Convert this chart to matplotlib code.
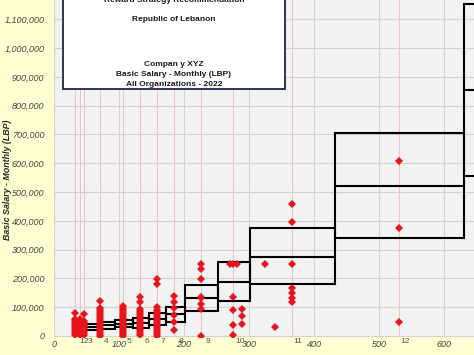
import matplotlib
matplotlib.use("Agg")
import matplotlib.pyplot as plt
from matplotlib.patches import Rectangle
from matplotlib.ticker import FuncFormatter

plt.rcParams['font.family'] = ['Liberation Sans', 'DejaVu Sans']

# grades: x position (job points) and employee salaries (LBP)
grade_labels = ["1", "2", "3", "4", "5", "6", "7", "8", "9", "10", "11", "12"]
grade_x = [33, 40, 46, 70, 105.5, 133, 158, 185, 226.5, 276, 366, 531]
grade_salaries = [
    [3000, 10000, 17000, 24000, 31000, 38000, 45000, 52000, 58000, 81000],
    [5000, 12000, 19000, 26000, 33000, 40000, 47000, 54000, 60000],
    [4000, 11000, 18000, 25000, 32000, 39000, 46000, 53000, 76000],
    [0, 7000, 14000, 21000, 28000, 35000, 42000, 49000, 56000, 63000, 70000,
     77000, 84000, 91000, 98000, 121000],
    [0, 7000, 14000, 21000, 28000, 35000, 42000, 49000, 56000, 63000, 70000,
     77000, 84000, 91000, 98000, 105000],
    [4000, 11000, 18000, 25000, 32000, 39000, 46000, 53000, 60000, 67000,
     74000, 81000, 88000, 95000, 119000, 137000],
    [0, 7000, 14000, 21000, 28000, 35000, 42000, 49000, 56000, 63000, 70000,
     77000, 84000, 91000, 100000, 180000, 198000],
    [21000, 49000, 73000, 97000, 119000, 139000],
    [1000, 93000, 110000, 132000, 137000, 198000, 232000, 250000],
    [3000, 38000, 90000, 137000, 249000],
    [118000, 133000, 149000, 167000, 250000, 397000, 458000],
    [49000, 375000, 608000],
]

# employees plotted off the grade lines
other_x = [270, 282, 289, 289, 289, 324.5, 339.5]
other_y = [249000, 249000, 42000, 69000, 94000, 250000, 31000]

# salary structure: point range and min / mid / max per grade
box_lo = [37, 44, 71, 93.8, 122, 146.6, 171.5, 201.5, 251.8, 300.8, 431.8, 630]
box_hi = [44, 71, 93.8, 122, 146.6, 171.5, 201.5, 251.8, 300.8, 431.8, 630, 700]
box_min = [15000, 21000, 26000, 30000, 27000, 39000, 50000, 87000, 123000, 181000, 340000, 556000]
box_mid = [22000, 31000, 37000, 42000, 44000, 59000, 76000, 131000, 189000, 276000, 521000, 854000]
box_max = [30000, 41000, 48000, 55000, 61000, 79000, 102000, 177000, 257000, 375000, 705000, 1153000]

title_lines = ["Reward Strategy Recommendation", "Republic of Lebanon",
               "Compan y XYZ", "Basic Salary - Monthly (LBP)", "All Organizations - 2022"]

W, H = 474, 355
fig = plt.figure(figsize=(W / 100, H / 100), dpi=100, facecolor='#FFFFD2')
ax = fig.add_axes([54 / W, (H - 337) / H, (W - 54) / W, 337 / H])
ax.set_facecolor('#F2F2F2')
for s in ax.spines.values():
    s.set_visible(False)

ax.set_xlim(0, 646)
ax.set_ylim(-3500, 1167000)
ax.set_xticks(range(0, 700, 100))
ax.set_yticks(range(0, 1100001, 100000))
ax.yaxis.set_major_formatter(FuncFormatter(lambda v, p: f"{v:,.0f}"))
ax.tick_params(length=0, labelsize=6.5, labelcolor='#454545')
ax.tick_params(axis='y', pad=7)
ax.tick_params(axis='x', pad=2.5)
for lab in ax.get_xticklabels() + ax.get_yticklabels():
    lab.set_style('italic')
ax.grid(color='#D2D2D2', lw=0.8, zorder=0)
ax.set_axisbelow(True)

for gx in grade_x:
    ax.axvline(gx, color='#EBC3C3', lw=0.8, zorder=1)

# structure boxes
widths = [h - l for l, h in zip(box_lo, box_hi)]
heights = [mx - mn for mn, mx in zip(box_min, box_max)]
ax.bar(box_lo, heights, width=widths, bottom=box_min, align='edge',
       fill=False, edgecolor='black', lw=1.5, zorder=3)
ax.hlines(box_mid, box_lo, box_hi, color='black', lw=1.5, zorder=3)

# employees
for gx, sal in zip(grade_x, grade_salaries):
    ax.plot([gx] * len(sal), sal, 'D', color='#E8141B', ms=3.9, mew=0, zorder=4)
ax.plot(other_x, other_y, 'D', color='#E8141B', ms=3.9, mew=0, zorder=4)

for gx, g in zip(grade_x, grade_labels):
    ax.annotate(g, (gx, 0), xycoords=('data', 'axes fraction'), xytext=(4.5, -3),
                textcoords='offset points', ha='center', va='center',
                fontsize=6, color='#505050', annotation_clip=False)

fig.text(8 / W, 1 - 180 / H, "Basic Salary - Monthly (LBP)", rotation=90,
         ha='center', va='center', fontsize=6.4, fontweight='bold',
         style='italic', color='#262626')

# title box
fig.add_artist(Rectangle((63 / W, 1 - 89 / H), (285 - 63) / W, 100 / H,
                         transform=fig.transFigure, facecolor='white',
                         edgecolor='#1B2450', lw=1.3, zorder=5))
for txt, yp in zip(title_lines, [1, 19.5, 64, 74, 84]):
    fig.text(174 / W, 1 - yp / H, txt, ha='center', va='center', fontsize=6,
             fontweight='bold', color='#1A1A1A', zorder=6)

fig.savefig("out.png", dpi=100, facecolor=fig.get_facecolor())
